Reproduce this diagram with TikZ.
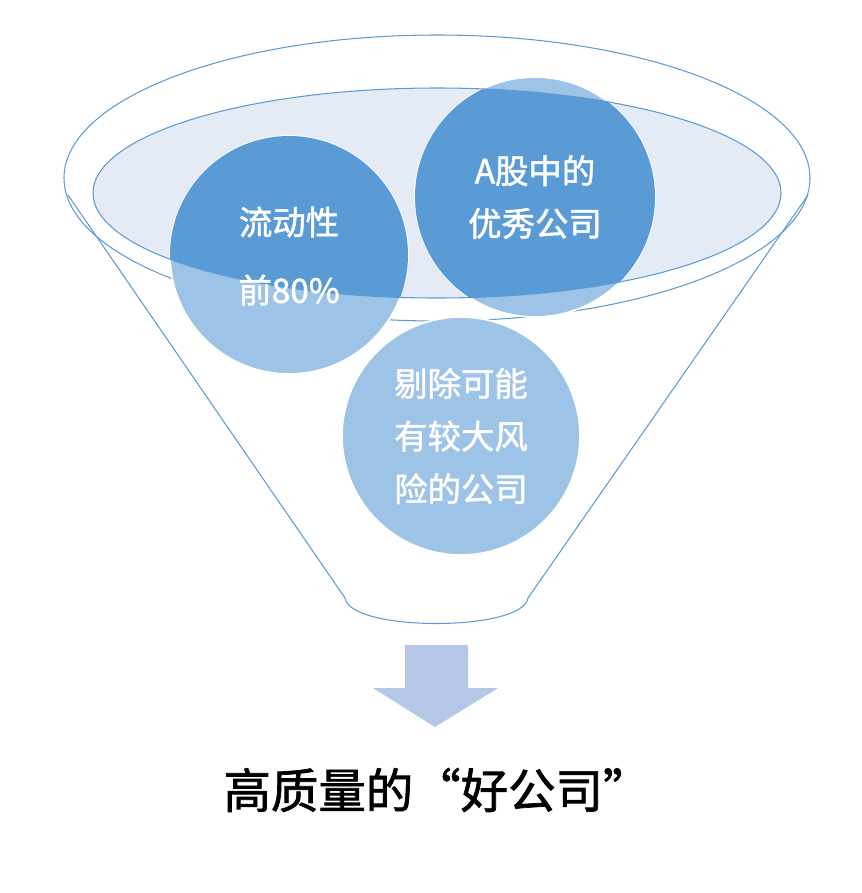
\documentclass[tikz,border=0pt]{standalone}
\usepackage{fontspec}
\setmainfont{Noto Sans CJK SC}
\newfontfamily\cjkbold[FakeBold=1.5]{Noto Sans CJK SC}
\usetikzlibrary{shapes.geometric, shadows}
\definecolor{lightblue}{HTML}{9DC3E6}
\definecolor{darkblue}{HTML}{5B9BD5}
\definecolor{paleblue}{HTML}{E4EBF5}
\definecolor{arrowblue}{HTML}{B4C7E7}
\definecolor{edgeblue}{HTML}{5B9BD5}

\begin{document}
\begin{tikzpicture}[x=0.02cm, y=-0.02cm,
		ball/.style={circle, draw=white, line width=1pt, fill=lightblue, inner sep=0pt},
		balltext/.style={font=\cjkbold\fontsize{19}{30}\selectfont, text=white, align=center},
		rim/.style={draw=edgeblue, line width=0.6pt}
		]
	\useasboundingbox (0,0) rectangle (862,893);

	% funnel
	\draw[rim] (437,178) ellipse [x radius=373, y radius=143];
	\draw[rim] (68,195) -- (345,598);
	\draw[rim] (808,195) -- (528,598);
	\draw[rim] (345,598) .. controls (350,632) and (523,632) .. (528,598);
	\fill[paleblue] (437,193) ellipse [x radius=344, y radius=105];

	% balls
	\node[ball, minimum size=4.76cm] (liquid) at (289,255) {};
	\node[ball, minimum size=4.8cm] (good) at (535,197) {};
	\node[ball, minimum size=4.76cm] (risk) at (461,436) {};
	\begin{scope}
		\clip (437,193) ellipse [x radius=344, y radius=105];
		\fill[darkblue] (289,255) circle (119);
		\fill[darkblue] (535,197) circle (120);
	\end{scope}
	\draw[edgeblue, line width=0.6pt] (437,193) ellipse [x radius=344, y radius=105];

	\node[balltext] (liquidtext) at (289,222) {流动性};
	\node[balltext] (toptext) at (289,290) {前80\%};
	\node[balltext] (goodtext) at (535,197) {A股中的\\优秀公司};
	\node[balltext] (risktext) at (461,436) {剔除可能\\有较大风\\险的公司};

	% arrow and result
	\fill[arrowblue] (405,645) -- (468,645) -- (468,688) -- (498,688) -- (435,727)
		-- (373,688) -- (405,688) -- cycle;
	\node[font=\cjkbold\fontsize{27}{32}\selectfont, text=black] (result) at (437,790)
		{高质量的“好公司”};
\end{tikzpicture}
\end{document}
